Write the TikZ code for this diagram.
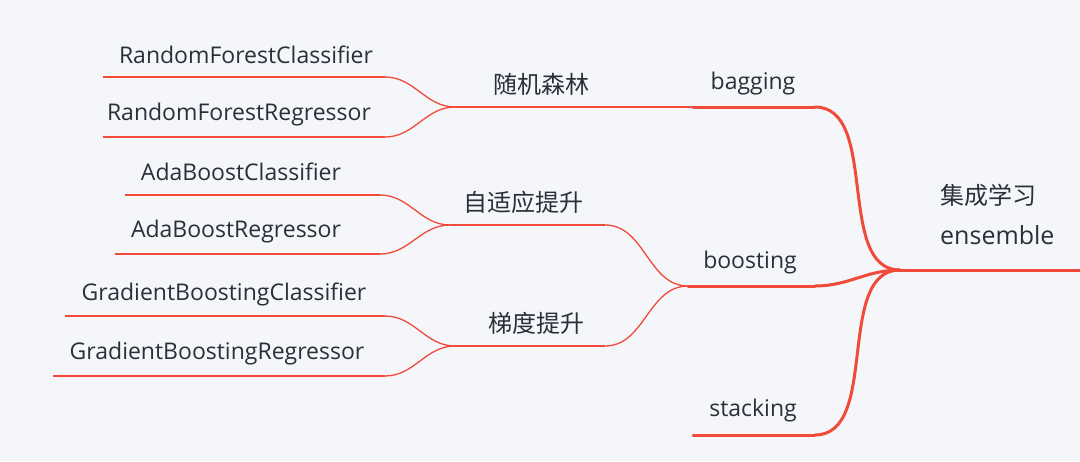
\documentclass[tikz,border=0pt]{standalone}
\usepackage{fontspec}
\setmainfont{Open Sans}
\newfontfamily\cjk{Noto Sans CJK SC}
\definecolor{bg}{HTML}{F5F6FA}
\definecolor{ln}{HTML}{F04A3A}
\definecolor{tx}{HTML}{2B2F3A}
\begin{document}
\begin{tikzpicture}[x=1pt,y=-1pt,
  lbl/.style={text=tx,font=\fontsize{23}{26}\selectfont,inner sep=0pt},
  zh/.style={text=tx,font=\cjk\fontsize{24}{28}\selectfont,inner sep=0pt},
  thick1/.style={draw=ln,line width=3pt,line cap=round},
  thin1/.style={draw=ln,line width=1.3pt},
  cv/.style={out=0,in=180}]
\fill[bg] (0,0) rectangle (1080,461);
\useasboundingbox (0,0) rectangle (1080,461);
% root
\coordinate (r) at (900,270);
\coordinate (re) at (1080,270);
\draw[thick1] (r) -- (re);
\node[zh,anchor=west] (root1) at (940,195) {集成学习};
\node[lbl,anchor=west,font=\fontsize{25}{28}\selectfont] (root2) at (940,235) {ensemble};
% level 1
\foreach \n/\y/\xa in {bag/107/693,boo/286/688,sta/435/693}{
  \coordinate (\n a) at (\xa,\y);
  \coordinate (\n b) at (815,\y);
}
\draw[thick1] (baga) -- (bagb);
\draw[thick1] (booa) -- (boob);
\draw[thick1] (staa) -- (stab);
\draw[thick1] (bagb) to[out=0,in=180,looseness=0.9] (r);
\draw[thick1] (boob) to[out=0,in=180] (r);
\draw[thick1] (stab) to[out=0,in=180,looseness=0.9] (r);
\node[lbl] (tbag) at (753,84) {bagging};
\node[lbl] (tboo) at (750,263) {boosting};
\node[lbl] (tsta) at (753,411) {stacking};
% level 2
\coordinate (rfa) at (455,107);
\coordinate (ada) at (450,225); \coordinate (adb) at (605,225);
\coordinate (gba) at (455,346); \coordinate (gbb) at (605,346);
\draw[thin1] (rfa) -- (baga);
\draw[thin1] (ada) -- (adb); \draw[thin1] (adb) to[cv] (booa);
\draw[thin1] (gba) -- (gbb); \draw[thin1] (gbb) to[cv] (booa);
\node[zh] (trf) at (541,84) {随机森林};
\node[zh] (tad) at (523,202) {自适应提升};
\node[zh] (tgb) at (536,323) {梯度提升};
% level 3
\foreach \n/\xa/\xb/\y/\p/\tx/\ty/\t in {
  c1/103/385/77/rfa/246/55/RandomForestClassifier,
  c2/103/385/137/rfa/239/115/RandomForestRegressor,
  c3/125/380/195/ada/241/172/AdaBoostClassifier,
  c4/115/380/254/ada/236/232/AdaBoostRegressor,
  c5/65/385/316/gba/224/294/GradientBoostingClassifier,
  c6/53/385/376/gba/217/354/GradientBoostingRegressor}{
  \coordinate (\n a) at (\xa,\y);
  \coordinate (\n b) at (\xb,\y);
  \draw[thin1] (\n a) -- (\n b);
  \draw[thin1] (\n b) to[cv] (\p);
  \node[lbl] (\n t) at (\tx,\ty) {\t};
}
\end{tikzpicture}
\end{document}
